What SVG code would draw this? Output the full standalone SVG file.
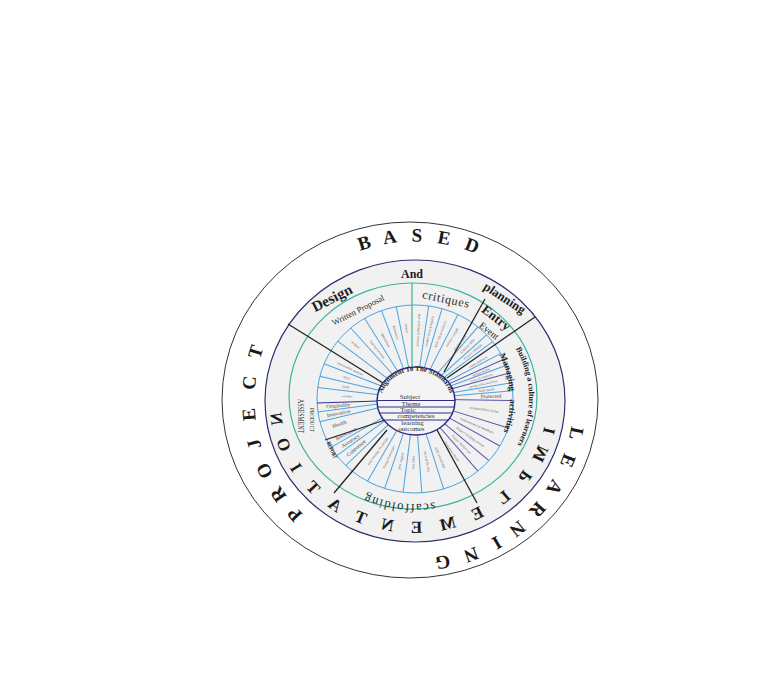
<svg xmlns="http://www.w3.org/2000/svg" width="768" height="678" viewBox="0 0 768 678">
<style>
.lb{stroke:#4aa3df;stroke-width:1;fill:none}
.nv{stroke:#5656a6;stroke-width:1;fill:none}
.bk{stroke:#222;stroke-width:1.3;fill:none}
.ch{stroke:#2e2e8a;stroke-width:1.2;fill:none}
.pbl{font-family:"Liberation Serif",serif;font-size:19px;font-weight:bold;fill:#1a1a1a;text-anchor:middle}
.impl{font-family:"Liberation Serif",serif;font-size:17px;font-weight:bold;fill:#1a1a1a;text-anchor:middle}
.hd{font-family:"Liberation Serif",serif;font-weight:bold;fill:#1e1e1e;text-anchor:middle}
.sb{font-family:"Liberation Serif",serif;fill:#2a2a2a;text-anchor:middle}
.t{font-family:"Liberation Serif",serif;font-size:3.6px;fill:#666;text-anchor:middle}
.m{font-family:"Liberation Serif",serif;font-size:5.5px;fill:#444;text-anchor:middle}
.in{font-family:"Liberation Serif",serif;font-size:6.8px;fill:#333;text-anchor:middle}
</style>
<defs>
<path id="pAlign" d="M 381.5 395.8 A 35 30 0 0 1 450.5 395.8"/>
<path id="pBuild" d="M 471.5 306.2 A 115 106 0 0 1 471.5 489.8"/>
<path id="pManage" d="M 462 316.6 A 96 94 0 0 1 462 479.4"/>
<path id="pScaf" d="M 526 398 A 112 106 0 0 1 302 398"/>
</defs>
<rect width="768" height="678" fill="#fff"/>
<g id="rings">
<ellipse cx="410" cy="400" rx="188" ry="178" fill="#fff" stroke="#333" stroke-width="1"/>
<ellipse cx="415" cy="401" rx="150" ry="141" fill="#f1f1f1" stroke="#2d2d6e" stroke-width="1.2"/>
<ellipse cx="413" cy="396" rx="124" ry="113" fill="none" stroke="#3db39c" stroke-width="1.2"/>
</g>
<g id="connectors">
<g transform="translate(415,399) scale(1,0.96)">
<line class="lb" x1="30" x2="98" transform="rotate(218)"/>
<line class="lb" x1="30" x2="98" transform="rotate(229)"/>
<line class="lb" x1="30" x2="98" transform="rotate(239)"/>
<line class="lb" x1="30" x2="98" transform="rotate(250)"/>
<line class="lb" x1="30" x2="98" transform="rotate(259)"/>
<line class="lb" x1="30" x2="98" transform="rotate(278)"/>
<line class="lb" x1="30" x2="98" transform="rotate(286)"/>
<line class="lb" x1="30" x2="98" transform="rotate(296)"/>
<line class="lb" x1="30" x2="98" transform="rotate(310)"/>
<line class="lb" x1="30" x2="98" transform="rotate(317)"/>
<line class="lb" x1="30" x2="98" transform="rotate(322.5)"/>
<line class="lb" x1="30" x2="98" transform="rotate(331)"/>
<line class="nv" x1="30" x2="98" transform="rotate(335)"/>
<line class="lb" x1="30" x2="98" transform="rotate(339)"/>
<line class="nv" x1="30" x2="98" transform="rotate(344)"/>
<line class="lb" x1="30" x2="98" transform="rotate(350)"/>
<line class="lb" x1="30" x2="98" transform="rotate(355)"/>
<line class="nv" x1="30" x2="98" transform="rotate(1)"/>
<line class="nv" x1="30" x2="98" transform="rotate(18)"/>
<line class="nv" x1="30" x2="98" transform="rotate(30)"/>
<line class="nv" x1="30" x2="98" transform="rotate(41)"/>
<line class="nv" x1="30" x2="98" transform="rotate(50)"/>
<line class="lb" x1="30" x2="98" transform="rotate(73)"/>
<line class="lb" x1="30" x2="98" transform="rotate(86)"/>
<line class="lb" x1="30" x2="98" transform="rotate(97)"/>
<line class="lb" x1="30" x2="98" transform="rotate(108)"/>
<line class="lb" x1="30" x2="98" transform="rotate(119)"/>
<line class="lb" x1="30" x2="98" transform="rotate(135)"/>
<line class="lb" x1="30" x2="98" transform="rotate(143)"/>
<line class="lb" x1="30" x2="98" transform="rotate(149)"/>
<line class="lb" x1="30" x2="98" transform="rotate(166)"/>
<line class="lb" x1="30" x2="98" transform="rotate(172)"/>
<line class="lb" x1="30" x2="98" transform="rotate(187)"/>
<line class="lb" x1="30" x2="98" transform="rotate(194)"/>
<line class="lb" x1="30" x2="98" transform="rotate(202)"/>
</g>
<ellipse cx="415" cy="399" rx="98" ry="94" fill="none" stroke="#4aa3df" stroke-width="1"/>
<line x1="412" y1="283" x2="412" y2="368" stroke="#3db39c" stroke-width="1.2"/>
<line class="bk" x1="383" y1="383" x2="288" y2="324"/>
<line class="bk" x1="444" y1="372" x2="485" y2="299"/>
<line class="bk" x1="447" y1="378" x2="535" y2="317"/>
<line class="bk" x1="437" y1="430" x2="477" y2="503"/>
<line class="bk" x1="387" y1="430" x2="334" y2="493"/>
<line class="bk" x1="385" y1="420" x2="325" y2="440"/>
<line class="ch" x1="317" y1="403" x2="378" y2="401"/>
</g>
<g id="core">
<ellipse cx="416" cy="401" rx="39" ry="34" fill="#f4f4f4" stroke="#2e2e8a" stroke-width="1.5"/>
<line class="ch" x1="377" y1="400.5" x2="455" y2="400.5"/>
<line class="ch" x1="377.6" y1="407" x2="454.4" y2="407"/>
<line class="ch" x1="379.5" y1="413" x2="452.5" y2="413"/>
<line class="ch" x1="383.7" y1="420" x2="448.3" y2="420"/>
<text class="hd" font-size="7"><textPath href="#pAlign" startOffset="50%">Alignment To The Standards</textPath></text>
<text class="in" x="410" y="398.5">Subject</text>
<text class="in" x="411" y="405.5">Theme</text>
<text class="in" x="408" y="411.8">Topic</text>
<text class="in" x="416" y="418.3">competencies</text>
<text class="in" x="412.5" y="424.8">learning</text>
<text class="in" x="411.5" y="430.5">outcomes</text>
</g>
<g id="band-labels">
<text class="hd" font-size="15" transform="translate(332,298) rotate(-27)" y="5">Design</text>
<text class="hd" font-size="12" x="412" y="278">And</text>
<text class="hd" font-size="12.5" transform="translate(504,299) rotate(33)" y="3">planning</text>
</g>
<g id="sector-labels">
<text class="sb" font-size="8.5" transform="translate(358,310) rotate(-27)" y="3">Written Proposal</text>
<text class="sb" font-size="12" letter-spacing="0.8" transform="translate(446,300) rotate(12)" y="3">critiques</text>
<text class="hd" font-size="13" transform="translate(496,318) rotate(38)" y="4">Entry</text>
<text class="sb" font-size="9.5" transform="translate(489,331) rotate(38)" y="3">Event</text>
<text class="hd" font-size="8" style="text-anchor:start"><textPath href="#pBuild" startOffset="62">Building a culture of learners</textPath></text>
<text class="hd" font-size="8.8" style="text-anchor:start"><textPath href="#pManage" startOffset="54">Managing<tspan dx="8">activities</tspan></textPath></text>
<text class="sb" font-size="12.5" letter-spacing="1.4"><textPath href="#pScaf" startOffset="186">scaffolding</textPath></text>
<text class="sb" font-size="8" textLength="34" lengthAdjust="spacingAndGlyphs" transform="translate(301,416) rotate(90)" y="2.8">ASSESMENT</text>
<text class="sb" font-size="6" textLength="24" lengthAdjust="spacingAndGlyphs" transform="translate(312,420) rotate(90)" y="2">PRODUCT</text>
<text class="hd" font-size="6" textLength="18" lengthAdjust="spacingAndGlyphs" transform="translate(332,450) rotate(65)" y="2">REPORT</text>
</g>
<g id="spoke-texts" transform="translate(415,399) scale(1,0.96)">
<text class="t" transform="rotate(223.5) translate(82,0) rotate(180)" dy="1.2">technol</text>
<text class="t" transform="rotate(234) translate(64,0) rotate(180)" dy="1.2">Appropriateness</text>
<text class="t" transform="rotate(244.5) translate(68,0) rotate(180)" dy="1.2">appropriate</text>
<text class="t" transform="rotate(254.5) translate(72,0) rotate(180)" dy="1.2">Resources</text>
<text class="t" transform="rotate(263.5) translate(74,0) rotate(180)" dy="1.2">subject</text>
<text class="t" transform="rotate(273) translate(72,0) rotate(180)" dy="1.2">peer and expert critique</text>
<text class="t" transform="rotate(282) translate(72,0) rotate(180)" dy="1.2">feedback from experts</text>
<text class="t" transform="rotate(291) translate(72,0) rotate(180)" dy="1.2">revision of the work</text>
<text class="t" transform="rotate(300.5) translate(74,0) rotate(180)" dy="1.2">gallery critique</text>
<text class="t" transform="rotate(307.5) translate(74,0)" dy="1.2">quality rubric</text>
<text class="t" transform="rotate(313.5) translate(76,0)" dy="1.2">Explore table</text>
<text class="t" transform="rotate(319.5) translate(76,0)" dy="1.2">Project calendar</text>
<text class="t" transform="rotate(328.5) translate(74,0)" dy="1.2">team contracts</text>
<text class="t" transform="rotate(337) translate(72,0)" dy="1.2">group norms</text>
<text class="t" transform="rotate(341.5) translate(70,0)" dy="1.2">roles of students</text>
<text class="t" transform="rotate(347) translate(70,0)" dy="1.2">group roles teachers</text>
<text class="t" transform="rotate(352.5) translate(72,0)" dy="1.2">daily goals</text>
<text class="m" font-size="5" transform="rotate(358) translate(76,0)" dy="1.6">Protected</text>
<text class="t" transform="rotate(9) translate(70,0)" dy="1.2">accountability factor</text>
<text class="t" font-size="4" transform="rotate(24) translate(68,0)" dy="1.3">enforcement of deadlines</text>
<text class="t" transform="rotate(35.5) translate(68,0)" dy="1.2">Project tracking system</text>
<text class="t" transform="rotate(45.5) translate(66,0)" dy="1.2">Project Reflection</text>
<text class="t" transform="rotate(56) translate(66,0)" dy="1.2">formative checks</text>
<text class="t" transform="rotate(67.5) translate(66,0)" dy="1.2">skills knowledge</text>
<text class="t" transform="rotate(79.5) translate(66,0)" dy="1.2">Intro of the day</text>
<text class="t" transform="rotate(91.5) translate(66,0) rotate(180)" dy="1.2">exit ticket</text>
<text class="t" transform="rotate(102.5) translate(66,0) rotate(180)" dy="1.2">peer support</text>
<text class="t" transform="rotate(113.5) translate(66,0) rotate(180)" dy="1.2">Group Prototypes</text>
<text class="t" transform="rotate(124.5) translate(66,0) rotate(180)" dy="1.2">total strategy for groups</text>
<text class="m" transform="rotate(139) translate(78,0) rotate(180)" dy="1.8">Coherence</text>
<text class="m" transform="rotate(146) translate(78,0) rotate(180)" dy="1.8">Accuracy</text>
<text class="m" transform="rotate(152.3) translate(78,0) rotate(180)" dy="1.8">Relevance</text>
<text class="m" transform="rotate(161) translate(80,0) rotate(180)" dy="1.8">Health</text>
<text class="m" transform="rotate(169) translate(78,0) rotate(180)" dy="1.8">Innovative</text>
<text class="m" transform="rotate(175) translate(77,0) rotate(180)" dy="1.8">Originality</text>
<text class="t" font-size="4" transform="rotate(182.5) translate(68,0) rotate(180)" dy="1.3">wonder</text>
<text class="t" font-size="4" transform="rotate(190.5) translate(70,0) rotate(180)" dy="1.3">study</text>
<text class="t" font-size="4" transform="rotate(198) translate(72,0) rotate(180)" dy="1.3">Real</text>
<text class="t" transform="rotate(206) translate(72,0) rotate(180)" dy="1.2">real teacher sources</text>
</g>
<g id="title-ring">
<text class="pbl" transform="translate(294.6,514.6) rotate(226)" y="6.5">P</text>
<text class="pbl" transform="translate(278,494.6) rotate(235)" y="6.5">R</text>
<text class="pbl" transform="translate(264.2,471) rotate(244.5)" y="6.5">O</text>
<text class="pbl" transform="translate(254,444.1) rotate(254.5)" y="6.5">J</text>
<text class="pbl" transform="translate(248.6,414.4) rotate(265)" y="6.5">E</text>
<text class="pbl" transform="translate(248.9,382.8) rotate(276)" y="6.5">C</text>
<text class="pbl" transform="translate(255.3,351.8) rotate(287)" y="6.5">T</text>
<text class="pbl" transform="translate(364.1,242.6) rotate(342.5)" y="6.5">B</text>
<text class="pbl" transform="translate(389.5,236.8) rotate(351.5)" y="6.5">A</text>
<text class="pbl" transform="translate(416.9,235) rotate(1)" y="6.5">S</text>
<text class="pbl" transform="translate(444.2,237.8) rotate(10.5)" y="6.5">E</text>
<text class="pbl" transform="translate(472.1,245.4) rotate(20.5)" y="6.5">D</text>
<text class="pbl" transform="translate(576.5,433.5) rotate(101.7)" y="6.5">L</text>
<text class="pbl" transform="translate(568.3,460.7) rotate(111.6)" y="6.5">E</text>
<text class="pbl" transform="translate(554.8,487.4) rotate(122)" y="6.5">A</text>
<text class="pbl" transform="translate(537.8,510) rotate(131.8)" y="6.5">R</text>
<text class="pbl" transform="translate(517.6,529) rotate(141.4)" y="6.5">N</text>
<text class="pbl" transform="translate(497,542.9) rotate(150)" y="6.5">I</text>
<text class="pbl" transform="translate(471.3,554.9) rotate(159.8)" y="6.5">N</text>
<text class="pbl" transform="translate(442.8,562.5) rotate(170)" y="6.5">G</text>
</g>
<g id="implementation-ring">
<text class="impl" transform="translate(548.9,430.7) rotate(-76) scale(-1,1)" y="5.8">I</text>
<text class="impl" transform="translate(540,453.7) rotate(-65) scale(-1,1)" y="5.8">M</text>
<text class="impl" transform="translate(525,476.4) rotate(-53) scale(-1,1)" y="5.8">P</text>
<text class="impl" transform="translate(503.3,497.3) rotate(-40) scale(-1,1)" y="5.8">L</text>
<text class="impl" transform="translate(477.1,513.2) rotate(-27) scale(-1,1)" y="5.8">E</text>
<text class="impl" transform="translate(447.6,523.2) rotate(-14) scale(-1,1)" y="5.8">M</text>
<text class="impl" transform="translate(416.4,527) rotate(-1) scale(-1,1)" y="5.8">E</text>
<text class="impl" transform="translate(387.5,524.7) rotate(11) scale(-1,1)" y="5.8">N</text>
<text class="impl" transform="translate(360.8,517.3) rotate(22.5) scale(-1,1)" y="5.8">T</text>
<text class="impl" transform="translate(335.3,504.7) rotate(34.5) scale(-1,1)" y="5.8">A</text>
<text class="impl" transform="translate(313.2,487.4) rotate(46.5) scale(-1,1)" y="5.8">T</text>
<text class="impl" transform="translate(296.1,467.3) rotate(58) scale(-1,1)" y="5.8">I</text>
<text class="impl" transform="translate(283.8,444.5) rotate(69.5) scale(-1,1)" y="5.8">O</text>
<text class="impl" transform="translate(276.5,418.8) rotate(81.5) scale(-1,1)" y="5.8">N</text>
</g>
</svg>
